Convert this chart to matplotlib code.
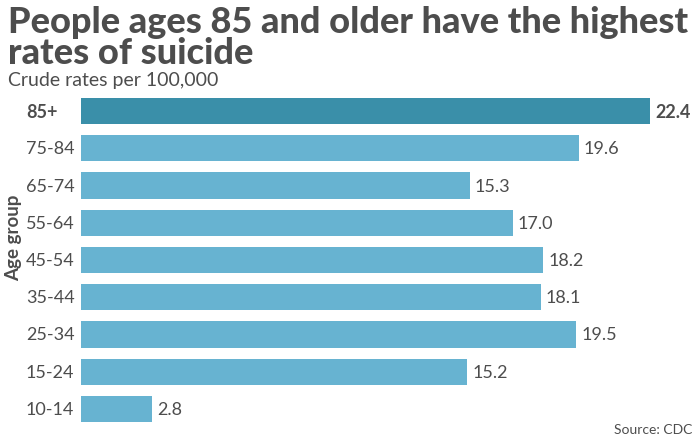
import matplotlib.pyplot as plt
import matplotlib.transforms as mtransforms

plt.rcParams['font.family'] = ['Lato', 'DejaVu Sans']

# data
groups = ['85+', '75-84', '65-74', '55-64', '45-54', '35-44', '25-34', '15-24', '10-14']
rates = [22.4, 19.6, 15.3, 17.0, 18.2, 18.1, 19.5, 15.2, 2.8]
highlight = '85+'

dark = '#3a8fa9'
light = '#67b3d1'
text_col = '#4d4d4d'

fig = plt.figure(figsize=(7, 4.39), dpi=100)
ax = fig.add_axes([81 / 700, 1 - 428.6 / 439, 619 / 700, (428.6 - 93.4) / 439])

pos = list(range(len(groups)))
colors = [dark if g == highlight else light for g in groups]
ax.barh(pos, rates, height=0.7, color=colors)
ax.set_ylim(len(groups) - 0.5, -0.5)
ax.set_xlim(0, 619 / 25.4)

# labels on the left, left aligned
trans = mtransforms.blended_transform_factory(fig.transFigure, ax.transData)
for p, g, r in zip(pos, groups, rates):
    w = 'bold' if g == highlight else 'normal'
    ax.text(r + 0.2, p, f'{r:.1f}', va='center', ha='left', fontsize=13,
            color=text_col, fontweight=w)
    ax.text(26 / 700, p, g, transform=trans, va='center', ha='left', fontsize=13,
            color=text_col, fontweight=w)

ax.set_yticks([])
ax.set_xticks([])
for s in ax.spines.values():
    s.set_visible(False)

fig.text(14 / 700, 1 - 238 / 439, 'Age group', rotation=90, ha='center', va='center',
         fontsize=13.5, fontweight='bold', color=text_col)

fig.text(8 / 700, 1 - 33 / 439, 'People ages 85 and older have the highest',
         fontsize=26, fontweight='black', color=text_col, va='baseline')
fig.text(8 / 700, 1 - 64 / 439, 'rates of suicide',
         fontsize=26, fontweight='black', color=text_col, va='baseline')
fig.text(8 / 700, 1 - 86 / 439, 'Crude rates per 100,000',
         fontsize=14, color=text_col, va='baseline')
fig.text(692 / 700, 1 - 434 / 439, 'Source: CDC', fontsize=10, color=text_col,
         ha='right', va='baseline')

fig.savefig('out.png', dpi=100)
